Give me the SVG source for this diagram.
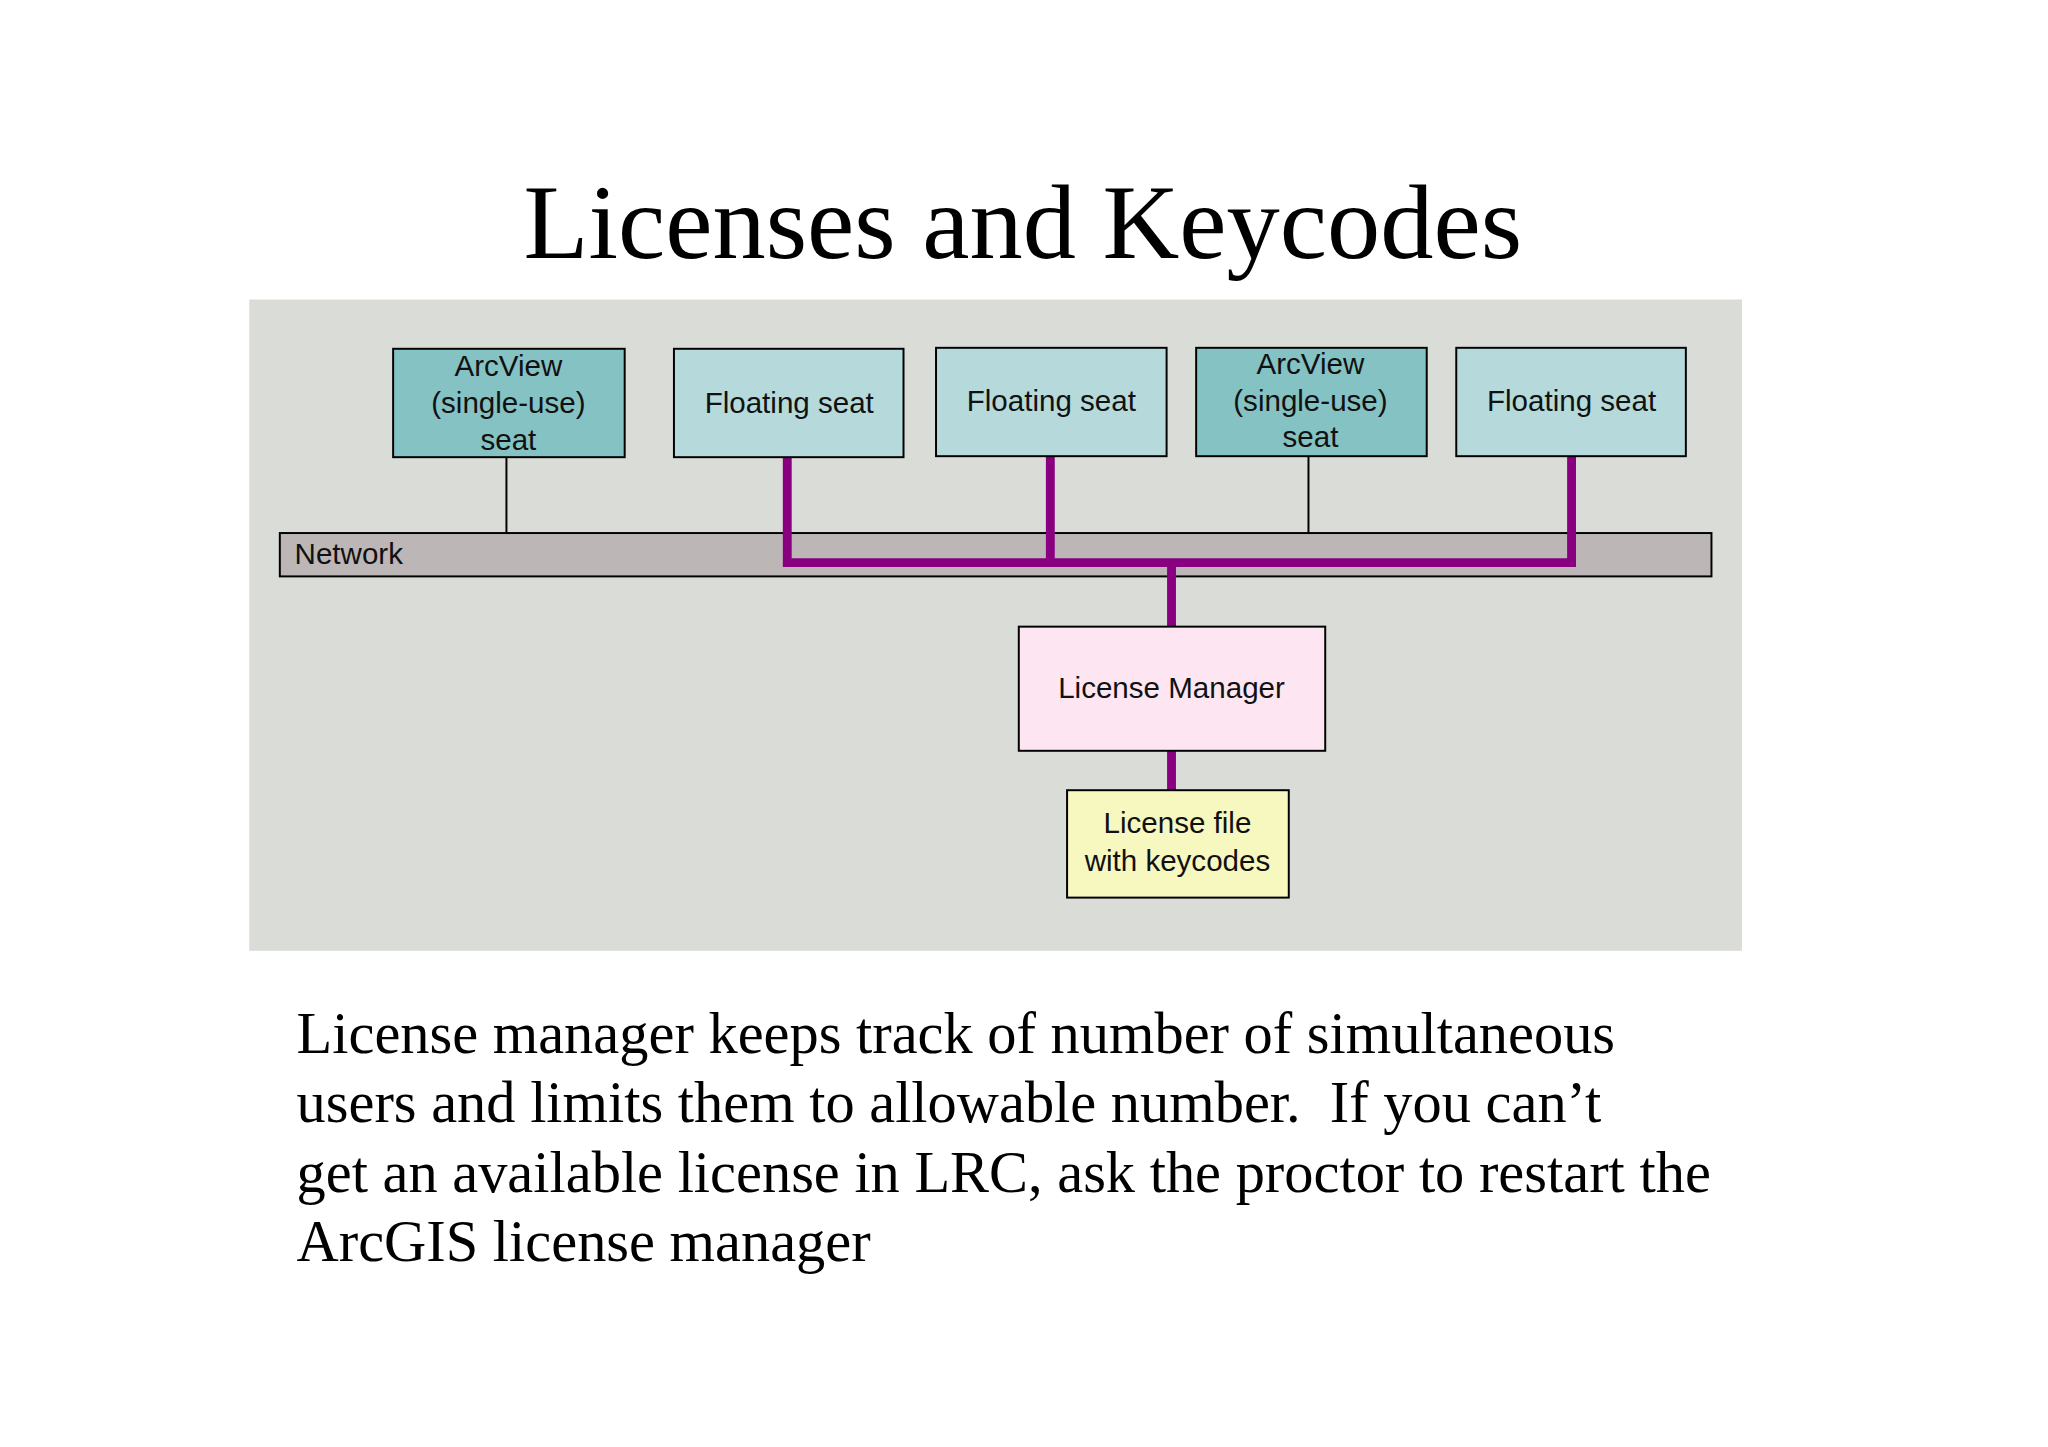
<svg xmlns="http://www.w3.org/2000/svg" width="2048" height="1447" viewBox="0 0 2048 1447">
<style>
.b{stroke:#000;stroke-width:2}
.t{font-family:"Liberation Sans",Arial,sans-serif;font-size:30px;fill:#111;text-anchor:middle}
.st{text-anchor:start}
.s{font-family:"Liberation Serif","Times New Roman",serif;fill:#000}
.p{stroke:#880080;stroke-width:9;fill:none}
</style>
<rect width="2048" height="1447" fill="#fff"/>
<g transform="scale(0.9853)">
<text class="s" x="1038" y="262" font-size="108" text-anchor="middle">Licenses and Keycodes</text>
<rect x="253" y="304" width="1515" height="661" fill="#d9dcd7"/>
<g id="network"><rect class="b" x="284" y="541" width="1453" height="44" fill="#bcb6b6"/><text class="t st" x="299" y="572">Network</text></g>
<g id="connectors">
<path class="b" d="M514 464V541M1328 463V541" fill="none"/>
<path class="p" d="M799 464V571H1595V463M1066 463V571M1189 571V636M1189 762V802"/>
</g>
<g id="arcview1"><rect class="b" x="399" y="354" width="235" height="110" fill="#85c2c4"/><text class="t" x="516" y="382">ArcView</text><text class="t" x="516" y="419">(single-use)</text><text class="t" x="516" y="457">seat</text></g>
<g id="float1"><rect class="b" x="684" y="354" width="233" height="110" fill="#b6dadb"/><text class="t" x="801" y="419">Floating seat</text></g>
<g id="float2"><rect class="b" x="950" y="353" width="234" height="110" fill="#b6dadb"/><text class="t" x="1067" y="417">Floating seat</text></g>
<g id="arcview2"><rect class="b" x="1214" y="353" width="234" height="110" fill="#85c2c4"/><text class="t" x="1330" y="380">ArcView</text><text class="t" x="1330" y="417">(single-use)</text><text class="t" x="1330" y="454">seat</text></g>
<g id="float3"><rect class="b" x="1478" y="353" width="233" height="110" fill="#b6dadb"/><text class="t" x="1595" y="417">Floating seat</text></g>
<g id="lm"><rect class="b" x="1034" y="636" width="311" height="126" fill="#fde6f2"/><text class="t" x="1189" y="708">License Manager</text></g>
<g id="lf"><rect class="b" x="1083" y="802" width="225" height="109" fill="#f7f7c0"/><text class="t" x="1195" y="845">License file</text><text class="t" x="1195" y="884">with keycodes</text></g>
<g class="s" font-size="59.3">
<text x="301" y="1069">License manager keeps track of number of simultaneous</text>
<text x="301" y="1139">users and limits them to allowable number.&#160; If you can’t</text>
<text x="301" y="1210">get an available license in LRC, ask the proctor to restart the</text>
<text x="301" y="1280">ArcGIS license manager</text>
</g>
</g>
</svg>
